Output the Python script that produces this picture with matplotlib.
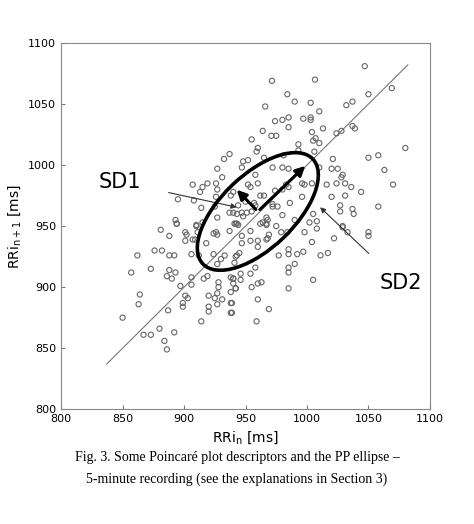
import matplotlib
matplotlib.use("Agg")
import matplotlib.pyplot as plt
from matplotlib.patches import Ellipse
import numpy as np

rr_n = [937,932.5,927,931,919,915,907,926,927,913,895,908,926,914,925,938,893,894,915,910,927,937,
 1047,1006.5,971.5,984,1050,1069,990,1003,966,1032,1037,1010,974,980,985,997,1003,1003,985,964,1004,1013,1024,1028,1037,1039,
 971,975,955,1007,1005,1010,993,993,1080,960,959,1006,965,981,1021,1050,1058,948,952,972,980,985,1010,1020,1025,1063,947,958,
 1028,1029,996,998,1004,983,1016,1024,1031,1070,952,960,954,985,974,980,1036,962,996,1020,1031,1044,957,972,976,986,1027,1058,
 1027,1037,1038,1005,1008,967,980,964,968,943,947,951,940,940,1029,943,
 881,888,894,901,902,910,911,901,907,909,918,924,926,927,937,942,862,876,882,888,892,906,912,924,930,933,942,857,873,888,893,886,
 890,906,916,919,928,928,938,940,942,897,906,927,864,863,901,903,899,899,920,925,931,927,920,927,938,920,938,938,887,850,914,880,
 867,873,892,884,886,
 941,944,962,967,967,979,984,954,947,947,954,960,967,969,960,943,945,977,985,985,992,997,998,1004,1002,1008,1011,1017,1022,1029,
 1033,1050,1050,941,958,985,985,990,946,954,940,940,946,960,963,955,942,985,1005,960,939,939,969,959,
 950,955,965,972,948,958,975,990,968,944]
rr_n1 = [1009,1005,997,990,985,982,984,985,980,978,972,971,974,965,966,975,955,952,953,951,957,961,
 1081,1070,1069,1058,1058,1063,1052,1051,1048,1049,1052,1044,1036,1037,1039,1038,1039,1037,1031,1028,1027,1030,1026,1028,1032,1030,
 1024,1024,1021,1022,1020,1018,1017,1012,1014,1014,1011,1011,1006,1008,1005,1006,1008,1003,1004,998,998,997,998,997,997,996,998,992,
 990,992,985,984,985,984,984,985,985,984,984,985,982,982,979,980,982,975,974,974,975,978,969,966,966,969,967,966,
 962,964,960,960,954,957,959,953,955,960,961,961,978,961,949,952,
 947,942,952,945,943,950,945,938,939,939,936,944,945,943,946,952,926,930,930,926,926,927,926,927,923,926,925,912,915,914,912,909,
 907,908,907,909,904,900,908,907,899,901,902,919,894,886,893,891,887,884,893,891,890,895,884,886,887,880,879,896,881,875,872,866,
 861,861,863,856,849,
 952,951,952,952,951,945,945,946,942,936,938,938,939,943,933,926,928,926,931,927,927,929,945,937,953,948,926,928,940,950,
 945,945,942,920,916,916,912,919,911,911,907,903,906,903,904,900,899,899,906,890,887,879,882,872,
 970,962,975,968,958,967,950,955,940,967]

diag_line = [837, 1082]
center = (960, 962)
sd1_len, sd2_len = 27, 56
ell_semi_major, ell_semi_minor = 62, 30
xticks = [800, 850, 900, 950, 1000, 1050, 1100]
yticks = [800, 850, 900, 950, 1000, 1050, 1100]

fig = plt.figure(figsize=(4.74, 5.24), dpi=100)
ax = fig.add_axes([0.129, 0.219, 0.778, 0.699])
ax.plot(diag_line, diag_line, color='#777777', lw=0.8, zorder=1)
ax.scatter(rr_n, rr_n1, s=14, facecolors='none', edgecolors='#666666', linewidths=0.8, zorder=2)
ax.add_patch(Ellipse(center, 2*ell_semi_major, 2*ell_semi_minor, angle=44, fill=False, lw=2.6, color='black', zorder=4))
c = np.cos(np.deg2rad(44)); s = np.sin(np.deg2rad(44))
ax.annotate('', xy=(center[0]+sd2_len*c, center[1]+sd2_len*s), xytext=center,
            arrowprops=dict(arrowstyle='-|>', lw=2.2, color='black', mutation_scale=14), zorder=5)
ax.annotate('', xy=(center[0]-sd1_len*s, center[1]+sd1_len*c), xytext=center,
            arrowprops=dict(arrowstyle='-|>', lw=2.2, color='black', mutation_scale=14), zorder=5)
ax.annotate('SD1', xy=(945, 965), xytext=(848, 986), fontsize=15, va='center', ha='center',
            arrowprops=dict(arrowstyle='-|>', lw=0.8, color='#333333', mutation_scale=8, shrinkA=18))
ax.annotate('SD2', xy=(1009, 967), xytext=(1076, 903), fontsize=15, va='center', ha='center',
            arrowprops=dict(arrowstyle='-|>', lw=0.8, color='#333333', mutation_scale=8, shrinkA=18))
ax.set_xlim(800, 1100); ax.set_ylim(800, 1100)
ax.set_xticks(xticks); ax.set_yticks(yticks)
ax.tick_params(direction='in', labelsize=8, length=3, color='#777777')
for sp in ax.spines.values():
    sp.set_color('#888888')
ax.set_xlabel('RRi$_\\mathregular{n}$ [ms]', fontsize=10)
ax.set_ylabel('RRi$_\\mathregular{n+1}$ [ms]', fontsize=10)
fig.text(0.5, 0.12, 'Fig. 3. Some Poincaré plot descriptors and the PP ellipse –',
         ha='center', fontsize=10, family='Liberation Serif')
fig.text(0.5, 0.078, '5-minute recording (see the explanations in Section 3)',
         ha='center', fontsize=10, family='Liberation Serif')
fig.savefig('out.png', dpi=100)
